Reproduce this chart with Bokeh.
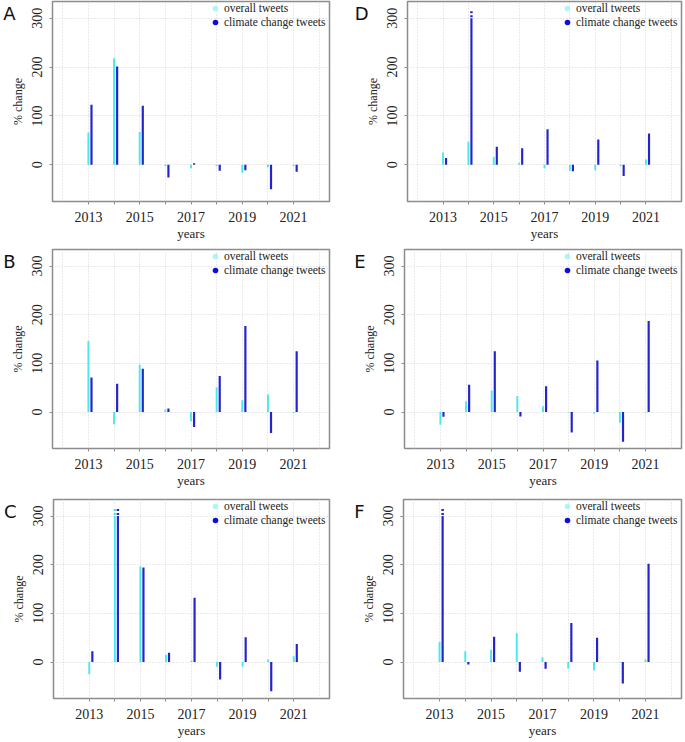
from bokeh.plotting import figure
from bokeh.layouts import column, row
from bokeh.models import FixedTicker, Legend, LegendItem, LinearAxis
from bokeh.embed import file_html
from bokeh.resources import INLINE

# ---------------- data ----------------
years = [2013, 2014, 2015, 2016, 2017, 2018, 2019, 2020, 2021]
tick_years = [2013, 2015, 2017, 2019, 2021]
grid_years = [2012, 2013, 2014, 2015, 2016, 2017, 2018, 2019, 2020, 2021, 2022]
y_ticks = [0, 100, 200, 300]
series_names = ["overall tweets", "climate change tweets"]
panel_letters = ["A", "B", "C", "D", "E", "F"]

# % change per year (values above 300 run off the axis and are drawn broken)
a_overall = [66, 218, 67, -3, -7, -3, -16, -5, -3]
a_climate = [123, 201, 121, -26, 3, -12, -11, -50, -14]
b_overall = [146, -25, 97, 5, -19, 51, 24, 36, -2]
b_climate = [71, 58, 89, 7, -31, 74, 177, -43, 125]
c_overall = [-25, 330, 197, 15, 3, -10, -10, 5, 12]
c_climate = [22, 330, 194, 19, 132, -36, 51, -60, 37]
d_overall = [25, 47, 16, 4, -7, -12, -11, -3, 11]
d_climate = [14, 330, 37, 34, 73, -13, 52, -23, 64]
e_overall = [-26, 22, 44, 33, 12, -1, -3, -22, -1]
e_climate = [-10, 56, 125, -9, 53, -42, 106, -61, 187]
f_overall = [41, 22, 25, 59, 10, -14, -17, -1, 5]
f_climate = [330, -5, 52, -20, -14, 80, 50, -44, 202]

CAP = 300
LETTER_Y = 310
CYAN = "#4ae8ec"
BLUE = "#2424cc"
CYAN_LEG = "#aef4f6"
BLUE_LEG = "#1010cc"
SERIF = "Liberation Serif"


def make_panel(letter, overall, climate, width, height, b_left, b_right, b_top, b_bottom, letter_standoff):
    p = figure(width=width, height=height, x_range=(2011.6, 2022.4), y_range=(-75, 334),
               output_backend="svg", toolbar_location=None,
               min_border_left=b_left, min_border_right=b_right,
               min_border_top=b_top, min_border_bottom=b_bottom)
    p.background_fill_color = "white"
    p.border_fill_color = "white"
    p.outline_line_color = "#8c8c8c"
    p.outline_line_width = 1.5

    # grids
    p.xgrid.ticker = FixedTicker(ticks=grid_years)
    p.ygrid.ticker = FixedTicker(ticks=y_ticks)
    for g in (p.xgrid, p.ygrid):
        g.grid_line_color = "#d4d4d4"
        g.grid_line_dash = "1 2"
        g.grid_line_width = 1

    # axes
    p.xaxis.ticker = FixedTicker(ticks=years)
    p.xaxis.major_label_overrides = {yr: (str(yr) if yr in tick_years else "") for yr in years}
    p.yaxis.ticker = FixedTicker(ticks=y_ticks)
    p.yaxis.major_label_orientation = "vertical"
    for ax in (p.xaxis, p.yaxis):
        ax.axis_line_color = None
        ax.major_tick_line_color = "#8c8c8c"
        ax.major_tick_in = 0
        ax.major_tick_out = 3
        ax.minor_tick_line_color = None
        ax.major_label_text_font = SERIF
        ax.major_label_text_font_size = "14px"
        ax.major_label_text_color = "#222222"
        ax.axis_label_text_font = SERIF
        ax.axis_label_text_font_style = "normal"
        ax.axis_label_text_color = "#222222"
    p.xaxis.axis_label = "years"
    p.xaxis.axis_label_text_font_size = "13px"
    p.xaxis.major_label_standoff = 7
    p.xaxis.axis_label_standoff = 1
    p.yaxis.axis_label = "% change"
    p.yaxis.axis_label_text_font_size = "12px"
    p.yaxis.major_label_standoff = 7
    p.yaxis.axis_label_standoff = 5

    # panel letter, drawn as the single label of an outer left axis
    lax = LinearAxis(ticker=FixedTicker(ticks=[LETTER_Y]),
                     major_label_overrides={LETTER_Y: letter},
                     axis_line_color=None, major_tick_line_color=None,
                     major_tick_in=0, major_tick_out=0, minor_tick_line_color=None,
                     major_label_standoff=letter_standoff,
                     major_label_orientation="horizontal",
                     major_label_text_font="DejaVu Sans", major_label_text_font_size="18px",
                     major_label_text_color="#111111")
    p.add_layout(lax, "left")

    # bars
    for vals, off, w, col in ((overall, 0.0, 0.075, CYAN), (climate, 0.12, 0.085, BLUE)):
        xs = [yr + off for yr in years]
        tops = [min(v, CAP) for v in vals]
        p.vbar(x=xs, width=w, top=tops, bottom=0, fill_color=col, line_color=None)
        bx = [yr + off for yr, v in zip(years, vals) if v > CAP]
        if bx:
            p.segment(x0=bx, x1=bx, y0=[CAP + 2] * len(bx), y1=[CAP + 18] * len(bx),
                      line_color=col, line_width=2.5, line_dash="2 2")

    # legend: zero-size markers (legend draws its own circle)
    r1 = p.scatter(x=years, y=overall, marker="circle", size=0,
                   fill_color=CYAN_LEG, line_color=None)
    r2 = p.scatter(x=years, y=climate, marker="circle", size=0,
                   fill_color=BLUE_LEG, line_color=None)
    leg = Legend(items=[LegendItem(label=series_names[0], renderers=[r1]),
                        LegendItem(label=series_names[1], renderers=[r2])],
                 location="top_right")
    leg.margin = 0
    leg.padding = 2
    leg.spacing = 0
    leg.label_standoff = 0
    leg.glyph_width = 18
    leg.glyph_height = 14
    leg.label_height = 12
    leg.label_width = 105
    leg.label_text_font = SERIF
    leg.label_text_font_size = "11.5px"
    leg.label_text_color = "#222222"
    leg.background_fill_alpha = 0
    leg.border_line_color = None
    p.add_layout(leg)
    return p


# rows: (height, top border, bottom border)
R1 = (245, 1, 44)
R2 = (249, 4, 46)
R3 = (248, 5, 44)
LW, LB, LR, LS = 351, 49, 22, -8
RW, RB, RR, RS = 334, 52, 4, -6

pa = make_panel(panel_letters[0], a_overall, a_climate, LW, R1[0], LB, LR, R1[1], R1[2], LS)
pd_ = make_panel(panel_letters[3], d_overall, d_climate, RW, R1[0], RB, RR, R1[1], R1[2], RS)
pb = make_panel(panel_letters[1], b_overall, b_climate, LW, R2[0], LB, LR, R2[1], R2[2], LS)
pe = make_panel(panel_letters[4], e_overall, e_climate, RW, R2[0], RB, RR, R2[1], R2[2], RS)
pc = make_panel(panel_letters[2], c_overall, c_climate, LW, R3[0], LB, LR, R3[1], R3[2], LS)
pf = make_panel(panel_letters[5], f_overall, f_climate, RW, R3[0], RB, RR, R3[1], R3[2], RS)

layout = column(row(pa, pd_), row(pb, pe), row(pc, pf))
open("out.html", "w").write(file_html(layout, INLINE))
